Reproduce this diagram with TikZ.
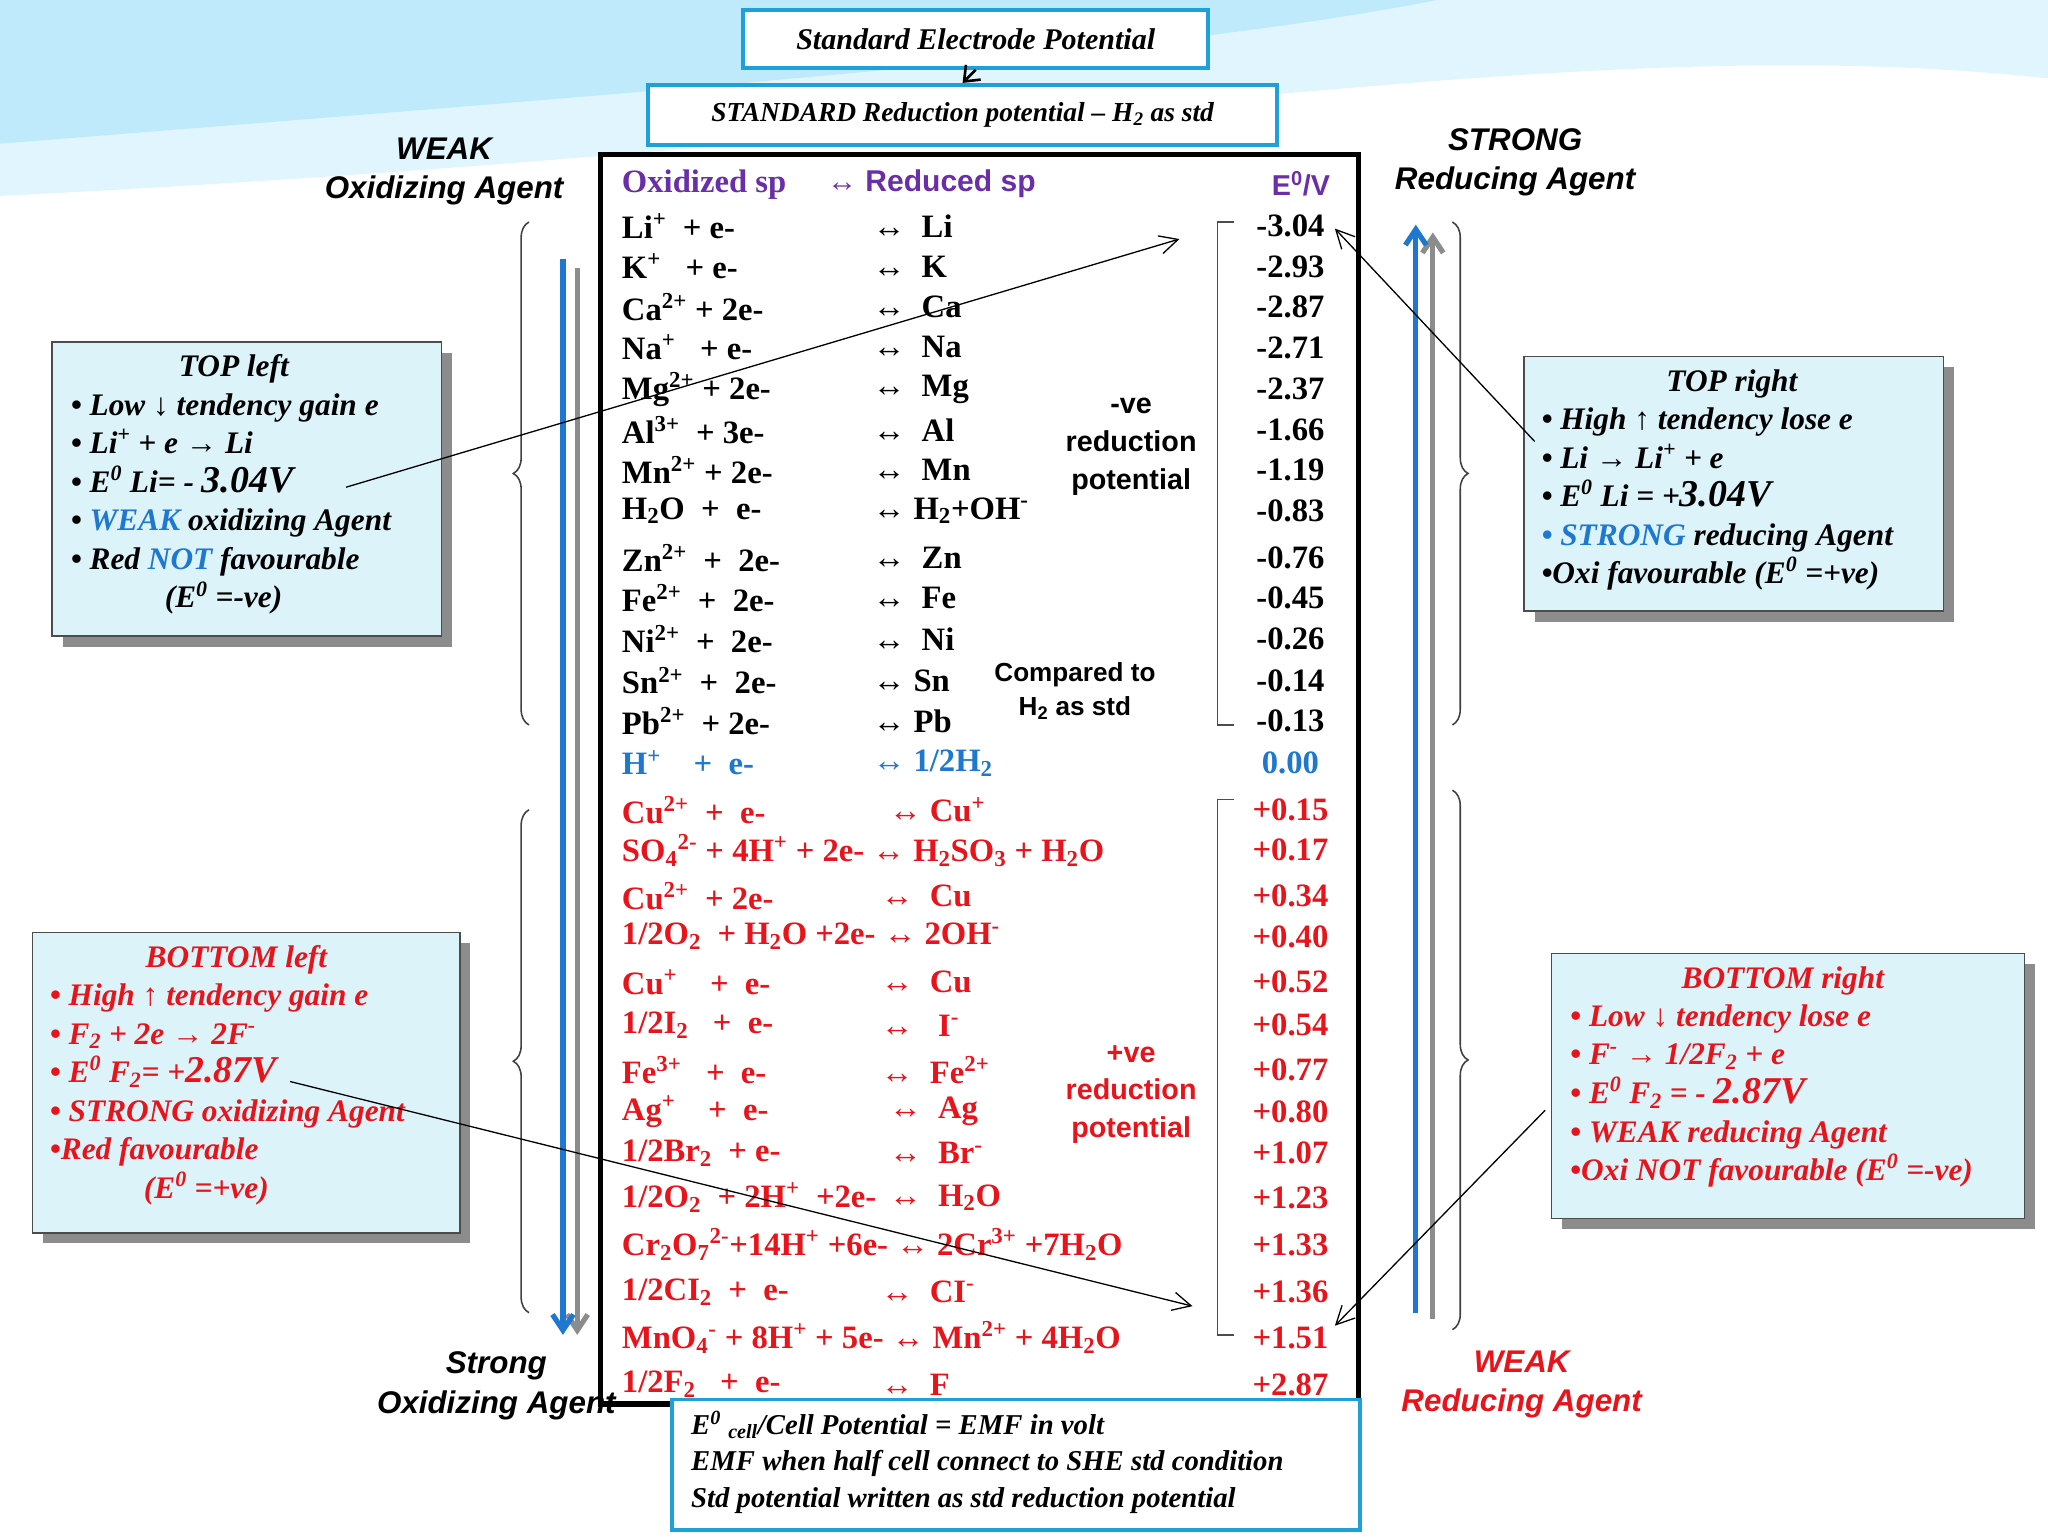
\documentclass[tikz,border=0pt]{standalone}
\usepackage{fontspec}
\setmainfont{Liberation Serif}
\setsansfont{Liberation Sans}
\usetikzlibrary{decorations.pathreplacing,arrows.meta}
\definecolor{rd}{HTML}{E8141B}
\definecolor{bl}{HTML}{1E78D0}
\definecolor{pu}{HTML}{6A2FA8}
\definecolor{bx}{HTML}{DDF3FA}
\definecolor{fr}{HTML}{1DA1D8}
\newcommand\sps[1]{\textsuperscript{#1}}
\newcommand\sbs[1]{\textsubscript{#1}}
\begin{document}
\begin{tikzpicture}[x=1pt,y=-1pt,
 rowt/.style={anchor=west,inner sep=0,font=\fontsize{25}{26}\selectfont\bfseries},
 val/.style={anchor=center,inner sep=0,font=\fontsize{25}{26}\selectfont\bfseries},
 info/.style={draw=black!70,line width=1.2pt,fill=bx},
 shad/.style={fill=black!45},
 itx/.style={font=\fontsize{24}{29.5}\selectfont\bfseries\itshape,align=left,anchor=north west,inner sep=0},
 hd/.style={font=\sffamily\fontsize{24}{30}\selectfont\bfseries\itshape,align=center},
 lab/.style={font=\sffamily\fontsize{22}{29}\selectfont\bfseries,align=center},
 brc/.style={decorate,decoration={brace,amplitude=12pt},line width=1.2pt,black!75},
 ptr/.style={-{Straight Barb[length=14pt,width=14pt]},line width=1pt},
 tb/.style={draw=fr,line width=3pt,fill=white}]
\useasboundingbox (0,0) rectangle (1568,1176);
\fill[cyan!12] (0,0)--(1568,0)--(1568,60) .. controls (1200,20) and (800,110) .. (0,150)--cycle;
\fill[cyan!25] (0,0)--(1100,0) .. controls (900,40) and (500,70) .. (0,110)--cycle;
% titles
\node[tb,minimum width=356,minimum height=44,font=\fontsize{23}{25}\selectfont\bfseries\itshape] (t1) at (747,30) {Standard Electrode Potential};
\node[tb,minimum width=482,minimum height=46,font=\fontsize{21}{25}\selectfont\bfseries\itshape] (t2) at (737,88) {STANDARD Reduction potential -- H\sbs{2} as std};
\draw[-{Straight Barb[length=10pt,width=16pt]},line width=2pt] (t1.south) -- (t2.north);
% main box
\draw[line width=4pt] (460,118) rectangle (1040,1075);
% headings
\node[hd] (h1) at (340,131) {WEAK\\Oxidizing Agent};
\node[hd] (h2) at (1160,124) {STRONG\\Reducing Agent};
\node[hd] (h3) at (380,1061) {Strong\\Oxidizing Agent};
\node[hd,text=rd] (h4) at (1165,1060) {WEAK\\Reducing Agent};
% header row
\node[rowt,text=pu] (c1) at (476,141) {Oxidized sp};
\node[rowt,text=pu,font=\sffamily\fontsize{23}{26}\selectfont\bfseries] (c2) at (633,141) {↔ Reduced sp};
\node[val,text=pu,font=\sffamily\fontsize{22}{26}\selectfont\bfseries] (c3) at (996,141) {E\sps{0}/V};
% rows
\foreach \n/\y/\a/\b/\v/\c in {
 r1/173/{Li\sps{+}\ \ + e-}/{↔\ \ Li}/{-3.04}/black,
 r2/204/{K\sps{+}\ \ \ + e-}/{↔\ \ K}/{-2.93}/black,
 r3/235/{Ca\sps{2+} + 2e-}/{↔\ \ Ca}/{-2.87}/black,
 r4/266/{Na\sps{+}\ \ \ + e-}/{↔\ \ Na}/{-2.71}/black,
 r5/298/{Mg\sps{2+} + 2e-}/{↔\ \ Mg}/{-2.37}/black,
 r6/329/{Al\sps{3+}\ \ + 3e-}/{↔\ \ Al}/{-1.66}/black,
 r7/360/{Mn\sps{2+} + 2e-}/{↔\ \ Mn}/{-1.19}/black,
 r8/391/{H\sbs{2}O\ \ + \ e-}/{↔ H\sbs{2}+OH\sps{-}}/{-0.83}/black,
 r9/427/{Zn\sps{2+}\ \ + \ 2e-}/{↔\ \ Zn}/{-0.76}/black,
 r10/458/{Fe\sps{2+}\ \ + \ 2e-}/{↔\ \ Fe}/{-0.45}/black,
 r11/489/{Ni\sps{2+}\ \ + \ 2e-}/{↔\ \ Ni}/{-0.26}/black,
 r12/521/{Sn\sps{2+}\ \ + \ 2e-}/{↔ Sn}/{-0.14}/black,
 r13/552/{Pb\sps{2+}\ \ + 2e-}/{↔ Pb}/{-0.13}/black,
 r14/584/{H\sps{+}\ \ \ \ + \ e-}/{↔ 1/2H\sbs{2}}/{0.00}/bl,
 r15/620/{Cu\sps{2+}\ \ + \ e-}/{\ \ ↔ Cu\sps{+}}/{+0.15}/rd,
 r16/651/{SO\sbs{4}\sps{2-}\ + 4H\sps{+} + 2e- ↔ H\sbs{2}SO\sbs{3} + H\sbs{2}O}/{}/{+0.17}/rd,
 r17/686/{Cu\sps{2+}\ \ + 2e-}/{\ ↔\ \ Cu}/{+0.34}/rd,
 r18/717/{1/2O\sbs{2}\ \ + H\sbs{2}O +2e- ↔\ 2OH\sps{-}}/{}/{+0.40}/rd,
 r19/752/{Cu\sps{+}\ \ \ \ + \ e-}/{\ ↔\ \ Cu}/{+0.52}/rd,
 r20/785/{1/2I\sbs{2}\ \ \ + \ e-}/{\ ↔\ \ \ I\sps{-}}/{+0.54}/rd,
 r21/819/{Fe\sps{3+}\ \ \ + \ e-}/{\ ↔\ \ Fe\sps{2+}}/{+0.77}/rd,
 r22/851/{Ag\sps{+}\ \ \ \ + \ e-}/{\ \ ↔\ \ Ag}/{+0.80}/rd,
 r23/883/{1/2Br\sbs{2}\ \ + e-}/{\ \ ↔\ \ Br\sps{-}}/{+1.07}/rd,
 r24/917/{1/2O\sbs{2}\ \ + 2H\sps{+}\ \ +2e-}/{\ \ ↔\ \ H\sbs{2}O}/{+1.23}/rd,
 r25/953/{Cr\sbs{2}O\sbs{7}\sps{2-}+14H\sps{+} +6e-\ ↔\ 2Cr\sps{3+} +7H\sbs{2}O}/{}/{+1.33}/rd,
 r26/989/{1/2CI\sbs{2}\ \ + \ e-}/{\ ↔\ \ CI\sps{-}}/{+1.36}/rd,
 r27/1024/{MnO\sbs{4}\sps{-}\ + 8H\sps{+} + 5e- ↔ Mn\sps{2+} + 4H\sbs{2}O}/{}/{+1.51}/rd,
 r28/1060/{1/2F\sbs{2}\ \ \ + \ e-}/{\ ↔\ \ F}/{+2.87}/rd}{
 \node[rowt,text=\c] (\n a) at (476,\y) {\a};
 \node[rowt,text=\c] (\n b) at (668,\y) {\b};
 \node[val,text=\c] (\n v) at (988,\y) {\v};
}
% middle labels
\node[lab] (m1) at (866,342) {-ve\\reduction\\potential};
\node[lab,text=rd] (m2) at (866,838) {+ve\\reduction\\potential};
\node[lab,font=\sffamily\fontsize{20}{26}\selectfont\bfseries] (m3) at (823,529) {Compared to\\H\sbs{2} as std};
% inner brackets
\draw[line width=1pt,black!70] (945,170)--(932,170)--(932,555)--(945,555);
\draw[line width=1pt,black!70] (945,612)--(932,612)--(932,1022)--(945,1022);
% side braces
\draw[brc] (405,555) -- (405,170);
\draw[brc] (405,1005) -- (405,620);
\draw[brc] (1112,170) -- (1112,555);
\draw[brc] (1112,605) -- (1112,1018);
% vertical arrows
\coordinate (lb1) at (431,198); \coordinate (lb2) at (431,1022);
\coordinate (lg1) at (442,205); \coordinate (lg2) at (442,1022);
\draw[line width=4pt,black!45,-{Straight Barb[length=12pt,width=16pt]}] (lg1)--(lg2);
\draw[line width=4pt,bl,-{Straight Barb[length=12pt,width=16pt]}] (lb1)--(lb2);
\coordinate (rb1) at (1084,1005); \coordinate (rb2) at (1084,172);
\coordinate (rg1) at (1097,1010); \coordinate (rg2) at (1097,178);
\draw[line width=4pt,black!45,-{Straight Barb[length=12pt,width=16pt]}] (rg1)--(rg2);
\draw[line width=4pt,bl,-{Straight Barb[length=12pt,width=16pt]}] (rb1)--(rb2);
% info boxes
\fill[shad] (48,270) rectangle (346,495);
\draw[info] (40,262) rectangle (338,487);
\node[itx,anchor=north] (tl) at (179,271) {TOP left};
\node[itx] (tlb) at (54,301) {• Low ↓ tendency gain e\\• Li\sps{+} + e → Li\\• E\sps{0} Li= - {\fontsize{29}{29}\selectfont 3.04V}\\• {\color{bl}WEAK} oxidizing Agent\\• Red {\color{bl}NOT} favourable\\\hspace*{3em}(E\sps{0} =-ve)};
\fill[shad] (1175,281) rectangle (1496,476);
\draw[info] (1167,273) rectangle (1488,468);
\node[itx,anchor=north] (tr) at (1326,283) {TOP right};
\node[itx] (trb) at (1180,312) {• High ↑ tendency lose e\\• Li → Li\sps{+}\ + e\\• E\sps{0} Li = +{\fontsize{29}{29}\selectfont 3.04V}\\{\color{bl}• STRONG} reducing Agent\\•Oxi favourable (E\sps{0} =+ve)};
\fill[shad] (33,722) rectangle (360,952);
\draw[info] (25,714) rectangle (352,944);
\node[itx,anchor=north,text=rd] (bl) at (181,724) {BOTTOM left};
\node[itx,text=rd] (blb) at (38,753) {• High ↑ tendency gain e\\• F\sbs{2}\ + 2e → 2F\sps{-}\\• E\sps{0} F\sbs{2}= +{\fontsize{29}{29}\selectfont 2.87V}\\• STRONG oxidizing Agent\\•Red\ favourable\\\hspace*{3em}(E\sps{0} =+ve)};
\fill[shad] (1196,738) rectangle (1558,941);
\draw[info] (1188,730) rectangle (1550,933);
\node[itx,anchor=north,text=rd] (br) at (1365,740) {BOTTOM right};
\node[itx,text=rd] (brb) at (1202,769) {• Low ↓ tendency lose e\\• F\sps{-} → 1/2F\sbs{2}\ + e\\• E\sps{0} F\sbs{2} = - {\fontsize{29}{29}\selectfont 2.87V}\\• WEAK reducing Agent\\•Oxi NOT favourable (E\sps{0} =-ve)};
% connectors
\coordinate (p1) at (265,373); \coordinate (q1) at (903,183);
\coordinate (p2) at (1175,338); \coordinate (q2) at (1022,175);
\coordinate (p3) at (222,828); \coordinate (q3) at (913,1000);
\coordinate (p4) at (1183,850); \coordinate (q4) at (1022,1015);
\draw[ptr] (p1)--(q1);
\draw[ptr] (p2)--(q2);
\draw[ptr] (p3)--(q3);
\draw[ptr] (p4)--(q4);
% bottom box
\node[tb,draw=fr,minimum width=527,minimum height=100,anchor=north west,inner sep=0] (bb) at (513,1070) {};
\node[itx,font=\fontsize{22}{28}\selectfont\bfseries\itshape] (bbt) at (529,1080) {E\sps{0}\ \sbs{cell}/Cell Potential = EMF in volt\\EMF when half cell\ connect to SHE std condition\\Std\ potential written as std reduction potential};
\end{tikzpicture}
\end{document}
